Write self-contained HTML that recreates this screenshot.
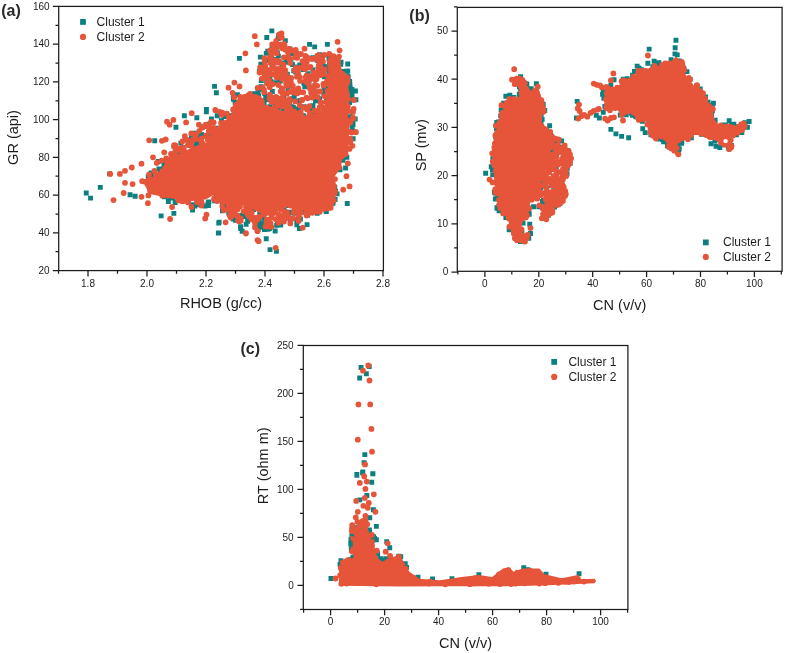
<!DOCTYPE html>
<html><head><meta charset="utf-8"><title>Cluster scatter plots</title>
<style>
html,body{margin:0;padding:0;background:#fff;}
body{width:785px;height:653px;overflow:hidden;}
svg{display:block;font-family:"Liberation Sans",Arial,sans-serif;}
</style></head><body>
<svg width="785" height="653" viewBox="0 0 785 653">
<rect width="785" height="653" fill="#ffffff"/>
<g>
<rect x="58.7" y="6.4" width="324.7" height="264.2" fill="none" stroke="#1c1c1c" stroke-width="1.25"/><path d="M88 270.6v5.8M147 270.6v5.8M206 270.6v5.8M265 270.6v5.8M324 270.6v5.8M383 270.6v5.8M58.5 270.6v3.2M117.5 270.6v3.2M176.5 270.6v3.2M235.5 270.6v3.2M294.5 270.6v3.2M353.5 270.6v3.2M58.7 270.6h-5.8M58.7 232.9h-5.8M58.7 195.1h-5.8M58.7 157.4h-5.8M58.7 119.6h-5.8M58.7 81.9h-5.8M58.7 44.1h-5.8M58.7 6.4h-5.8M58.7 251.7h-3.2M58.7 214h-3.2M58.7 176.2h-3.2M58.7 138.5h-3.2M58.7 100.8h-3.2M58.7 63h-3.2M58.7 25.3h-3.2" stroke="#1c1c1c" stroke-width="1.25" fill="none"/><g font-size="10" fill="#1c1c1c"><text x="88" y="286.5" text-anchor="middle">1.8</text><text x="147" y="286.5" text-anchor="middle">2.0</text><text x="206" y="286.5" text-anchor="middle">2.2</text><text x="265" y="286.5" text-anchor="middle">2.4</text><text x="324" y="286.5" text-anchor="middle">2.6</text><text x="383" y="286.5" text-anchor="middle">2.8</text><text x="49.6" y="273.9" text-anchor="end">20</text><text x="49.6" y="236.2" text-anchor="end">40</text><text x="49.6" y="198.4" text-anchor="end">60</text><text x="49.6" y="160.7" text-anchor="end">80</text><text x="49.6" y="122.9" text-anchor="end">100</text><text x="49.6" y="85.2" text-anchor="end">120</text><text x="49.6" y="47.4" text-anchor="end">140</text><text x="49.6" y="9.7" text-anchor="end">160</text></g><g font-size="14.5" fill="#1c1c1c"><text x="221" y="308.4" text-anchor="middle">RHOB (g/cc)</text><text transform="translate(18.4 137.5) rotate(-90)" text-anchor="middle">GR (api)</text></g>
<path d="M83.8 193h4.9M88.1 198.1h4.9M97.8 187.4h4.9M152.3 140.8h4.9M181.9 115.8h4.9M204 109.4h4.9M194.4 117.8h4.9M173.5 127.3h4.9M158.7 215.9h4.9M171.4 213.4h4.9M216.3 233h4.9M216.3 223.1h4.9M127.6 194.8h4.9M132.7 196.3h4.9M239.7 231.2h4.9M107.2 173.9h4.9M269.4 30.9h4.9M264.3 37.5h4.9M282.9 40.6h4.9M237 58.4h4.9M257.9 57.1h4.9M307.1 44.4h4.9M312.2 46.9h4.9M324.9 44.4h4.9M345.3 64h4.9M345.3 71.1h4.9M353 91h4.9M353.5 99.7h4.9M212.1 86.4h4.9M213.9 92.8h4.9M203.9 111.9h4.9M209 119h4.9M285.4 50.3h4.9M293.1 55.9h4.9M317.3 54.6h4.9M344.8 203.5h4.9M267.6 249.6h4.9M274 251.4h4.9M215.9 233.1h4.9M216.7 222.1h4.9M238.3 228.5h4.9M263.8 238.7h4.9M272.7 231h4.9M304.6 224.6h4.9M296.9 228.5h4.9M314.7 213.2h4.9M291.8 213.2h4.9" fill="none" stroke="#0c8080" stroke-width="4.9"/>
<path d="M274.6 46.7h4.9M290 64.5h4.9M281.9 102.7h4.9M296.6 112.7h4.9M293 67h4.9M313.4 58.2h4.9M273.5 101.8h4.9M264.2 82.4h4.9M297.4 65h4.9M300.5 69.6h4.9M273.9 82.7h4.9M284 59h4.9M308.7 92.1h4.9M268.8 81.8h4.9M289.2 106.7h4.9M304 58h4.9M281.4 96.9h4.9M262.1 74.7h4.9M306.6 81.7h4.9M314.6 60.2h4.9M301.5 83.4h4.9M293.2 72h4.9M312 112.4h4.9M285.5 89.2h4.9M255.5 92.3h4.9M310.7 57.8h4.9M279.1 89.6h4.9M255.3 97.8h4.9M279.4 106.4h4.9M256.9 71.4h4.9M290.9 107.4h4.9M310.5 105.7h4.9M271.3 68.6h4.9M277.1 107.4h4.9M263.8 53.4h4.9M268 74.4h4.9M293.8 56h4.9M277.9 81.1h4.9M320.3 91.4h4.9M288.5 85.3h4.9M316.4 98.8h4.9M314.6 100.3h4.9M279.5 67.2h4.9M258.6 86.7h4.9M275.7 38.6h4.9M258.4 64.3h4.9M269.4 63h4.9M277.5 44.4h4.9M284.9 74.3h4.9M275.9 56.1h4.9M313.7 91.9h4.9M270 64.6h4.9M263.2 98.1h4.9M289.7 98.7h4.9M275 52.7h4.9M313 100.9h4.9M310.5 95.5h4.9M267.5 77.1h4.9M276.9 36.6h4.9M269.9 91.5h4.9M320.5 71.2h4.9M320.4 64.4h4.9M267.1 53h4.9M265.3 51.1h4.9M296.4 108.8h4.9M312.1 73.9h4.9M298.5 100.4h4.9M257.2 88.9h4.9M317.1 99h4.9M305.5 73.8h4.9M264 99.5h4.9M275.2 100.5h4.9M321.6 67h4.9M316.8 101h4.9M261.7 102.6h4.9M322.2 88.6h4.9M276.5 79.6h4.9M321.6 88h4.9M289.3 111.5h4.9M282.6 106.4h4.9M269.3 58.5h4.9M268.5 82.8h4.9M269.9 68.9h4.9M276.7 72.1h4.9M293.4 109.1h4.9M287.5 78.2h4.9M283 49.4h4.9M263.6 73.4h4.9M303.7 80.3h4.9M274.7 77.1h4.9M291.4 99.1h4.9M258.8 80.6h4.9M269.1 57.1h4.9M307.1 76.2h4.9M291.8 97.1h4.9M317.3 70.9h4.9M295.5 76.1h4.9M288.2 91.6h4.9M283.9 78.4h4.9M301.8 106.8h4.9M319.5 55.7h4.9M291.7 112.3h4.9M259.9 70.8h4.9M256.4 89.6h4.9M308 108.5h4.9M262.3 93.5h4.9M280 74.6h4.9M262.8 69.9h4.9M288.5 62.3h4.9M265.3 60.6h4.9M291.3 70.7h4.9M296.4 76.6h4.9M308.3 114.7h4.9M253.9 98.7h4.9M270.7 44.9h4.9M281.7 109.7h4.9M292.5 92.2h4.9M301 69.4h4.9M297.1 100.6h4.9M257.1 105.1h4.9M255.9 105.6h4.9M284 62.3h4.9M291.2 110.9h4.9M270.5 44.9h4.9M289.3 53.9h4.9M273.7 59.5h4.9M306.2 58.2h4.9M287.4 48.9h4.9M276.2 35.7h4.9M304.3 79.8h4.9M264.8 73.5h4.9M310.5 70h4.9M287 103.3h4.9M279.6 76.2h4.9M301 115.6h4.9M275.9 103.1h4.9M302.4 86.9h4.9M280.4 63h4.9M256.2 95.6h4.9M269.6 47.7h4.9" fill="none" stroke="#0c8080" stroke-width="4.9"/>
<path d="M185.5 140.2h4.9M194.4 141.9h4.9M155.9 161.5h4.9M187.8 142.3h4.9M206.5 124.1h4.9M207 127.5h4.9M201.6 126.6h4.9M188.9 137.7h4.9M219 120.8h4.9M223.8 116.5h4.9M214.7 115.7h4.9M155.7 161.4h4.9M206.1 136.9h4.9M221.7 116.1h4.9M171.4 155.3h4.9M200 127.3h4.9M192.1 133.2h4.9M207.5 134.4h4.9" fill="none" stroke="#0c8080" stroke-width="4.9"/>
<path d="M285.9 213.5h4.9M347.4 84.2h4.9M228.2 205.8h4.9M164.6 160.6h4.9M327 63.5h4.9M213.8 197.4h4.9M177.2 153.3h4.9M245.2 221.3h4.9M338.1 64.4h4.9M165.9 197.1h4.9M350.2 111.8h4.9M286 205.6h4.9M281.6 210h4.9M324.1 99h4.9M221.5 203.9h4.9M298 219h4.9M345.8 77.8h4.9M219.8 202h4.9M348.8 92.6h4.9M220 127.4h4.9M263 213h4.9M349.7 127.3h4.9M214.8 128.1h4.9M230.8 97.8h4.9M213.7 193.6h4.9M235 94.7h4.9M292.7 115.4h4.9M189.1 204.6h4.9M350.4 120.9h4.9M327.2 58.2h4.9M193.6 145.5h4.9M231.8 214.5h4.9M147 178.9h4.9M256.4 222.2h4.9M344.6 71.2h4.9M148.9 178h4.9M261.6 213h4.9M336.6 169.5h4.9M330.5 203.4h4.9M233.5 216.3h4.9M305.2 215.4h4.9M230.7 218.6h4.9M185.1 200.9h4.9M289 212.1h4.9M231.6 96.4h4.9M349.6 98.9h4.9M233 220.3h4.9M326.6 72.8h4.9M202.7 206h4.9M280.6 110.3h4.9M309.9 211.4h4.9M172.7 202.5h4.9M338.6 62.1h4.9M332.3 187.3h4.9M252.9 225.6h4.9M344.6 92.7h4.9M267.4 106.8h4.9M323.6 211h4.9M339.9 71.5h4.9M254.1 225.1h4.9M263.2 220.9h4.9M194.7 200.6h4.9M323.9 211.5h4.9M232 95.5h4.9M265.4 229.3h4.9M350.5 111.2h4.9M207.3 138.3h4.9M161.5 165.7h4.9M236.6 218.1h4.9M257.3 214.2h4.9M279.2 208.8h4.9M205.3 138.6h4.9M344.9 117.2h4.9M274.6 109.1h4.9M332.7 199.5h4.9M250.1 95h4.9M349.8 127.5h4.9M289.9 212.6h4.9M205.9 205.5h4.9M274.9 220.7h4.9M242.8 216.5h4.9M183.7 200.4h4.9M259.3 227.4h4.9M225.2 122.2h4.9M346.1 131.9h4.9M262.8 226.2h4.9M316.8 113h4.9M197.7 140.4h4.9M205.8 202.8h4.9M347.5 116.7h4.9M347.6 100h4.9M194.5 144.6h4.9M262.2 219.2h4.9M258.3 218.1h4.9M312.9 114.3h4.9M327 71.7h4.9M333.1 191.1h4.9M255.8 221.3h4.9M243.7 209.3h4.9M327.8 65.4h4.9M347.1 102.6h4.9M302.7 118.3h4.9M347.8 87.9h4.9M305.2 208.4h4.9M256.9 102.3h4.9M199 202.3h4.9M344.5 140.8h4.9M330.8 201.3h4.9M212.1 200.7h4.9M284.9 204h4.9M326.5 58.5h4.9M258 223.5h4.9M287.7 219.9h4.9M323.2 86.4h4.9M344.7 90h4.9M197.9 144.8h4.9M291.8 207.6h4.9M328.2 65.5h4.9M239.3 215.1h4.9M195.6 204.8h4.9M347 89.8h4.9M194.3 201.1h4.9M310.3 209.1h4.9M342.9 150.8h4.9M161.9 196.7h4.9M327.6 60.5h4.9M160 169.1h4.9M251.1 209.5h4.9M274.2 225.4h4.9M220 210.7h4.9M170.7 198h4.9M228.6 115.8h4.9M286.4 111.9h4.9M300.9 210.9h4.9M347.2 81.5h4.9M337.6 169.7h4.9M299.4 212.2h4.9M237.3 205h4.9M226.3 213h4.9M276.7 216.5h4.9M325.1 66.7h4.9M259.1 224.4h4.9M257.6 225.7h4.9M350.6 124.6h4.9M327 69.3h4.9M346.8 98.3h4.9M206.4 201.9h4.9M255.7 229.6h4.9M349.3 121.2h4.9M275.9 219.4h4.9M142.8 181.5h4.9M327.1 60.5h4.9M206 205.5h4.9M267.1 228.2h4.9M306.2 212h4.9M232.6 102.2h4.9M224.5 207.2h4.9M251.6 93.8h4.9M329 65.3h4.9M276.8 222.2h4.9M285.5 217.5h4.9M285.4 215.4h4.9M157.7 171h4.9M321.4 94.2h4.9M283.9 212.2h4.9M162 161.9h4.9M347.5 86.2h4.9M294.2 219.8h4.9M283.3 104.3h4.9M278.3 225.1h4.9M294.4 224.8h4.9M186.4 145.4h4.9M165.9 160.4h4.9M231 99.2h4.9M340.5 160.3h4.9M287.8 222h4.9M349.6 95.3h4.9M322 76.9h4.9M178.4 143.1h4.9M266.7 228.5h4.9M231 219.1h4.9M199 134.5h4.9M243.7 224.2h4.9M349.5 89.4h4.9M195.3 136h4.9M156.5 168.9h4.9M180.5 147.4h4.9M197.9 135.3h4.9M252.8 227.1h4.9M343.1 168h4.9M192.3 206h4.9M334.6 193.9h4.9M350.7 138.8h4.9M299.6 116.2h4.9M344.4 157.3h4.9M205.5 204.7h4.9M352.8 119h4.9M148.5 172.9h4.9M177.3 148.5h4.9M238.1 226.6h4.9M190.1 210.1h4.9M345.5 76.4h4.9M254.6 227.7h4.9M145.8 176.7h4.9M199.9 136.2h4.9M150.7 173.2h4.9M322.9 84h4.9M272.6 104.8h4.9M165.9 201.6h4.9M255.6 99.4h4.9M290.6 111.3h4.9M287.6 110.2h4.9M262 229.6h4.9" fill="none" stroke="#0c8080" stroke-width="4.9"/><path d="M144 182L144.9 185.6L149.6 194.1L168.2 197.7L168.2 197.7L187 201.5L205.7 199.6L215.5 194.1L215.6 194.1L215.7 194L215.8 194L215.9 194L216 194L216.1 194L216.2 194L216.3 194L216.4 194.1L216.5 194.1L216.5 194.2L216.6 194.2L216.7 194.3L216.8 194.3L226 205L244.7 205.3L244.8 205.3L244.9 205.3L245 205.4L250.3 207.3L250.4 207.3L250.5 207.4L255.1 210.4L262.2 214.6L269.4 210.3L269.5 210.3L269.6 210.3L269.7 210.2L281.5 207.3L285.8 200L285.9 199.9L286 199.8L286 199.8L286.1 199.7L286.2 199.6L286.3 199.6L286.3 199.6L286.4 199.5L286.5 199.5L286.6 199.5L286.7 199.5L286.8 199.5L286.9 199.5L287 199.5L287.1 199.6L287.2 199.6L287.3 199.7L287.3 199.7L296.6 207.4L300.7 210.1L310.9 207.2L311 207.2L311.1 207.2L311.2 207.2L311.3 207.2L311.4 207.2L311.5 207.2L311.6 207.3L311.7 207.3L311.7 207.4L316.2 210.3L323.5 211.8L333.3 210.3L334.7 188.3L334 177.7L334 177.6L334 177.5L334 177.4L334.1 177.3L334.1 177.2L334.1 177.1L334.2 177L340.8 168L342.4 157.6L342.4 157.5L342.5 157.4L345 149.7L349 134.9L348 112.1L346 82.2L340.2 64.6L333.4 59.6L329 70.2L327 95.1L327 95.2L325 105.2L325 105.3L324.9 105.4L324.9 105.5L324.8 105.6L318.8 114.6L318.8 114.6L318.7 114.7L318.6 114.8L318.5 114.8L318.5 114.9L318.4 114.9L318.3 115L307.3 118L307.2 118L307.1 118L307 118L306.9 118L306.8 118L306.7 118L283.7 111L265.8 107L265.7 106.9L265.6 106.9L265.5 106.8L257.5 101.8L257.4 101.8L257.3 101.7L257.2 101.6L257.2 101.6L257.1 101.5L253.4 94.5L243.6 94L237.8 98.7L233.9 105.4L229.9 117.3L229.9 117.4L229.9 117.5L229.8 117.6L223.8 125.6L223.7 125.7L215.7 134.7L215.7 134.8L207.7 141.8L207.6 141.8L207.5 141.9L207.4 141.9L207.3 141.9L195.4 145.9L180.5 152.9L170.7 158.8L162.8 168.6L162.7 168.7L162.6 168.8L152.6 176.8L152.5 176.9L144 182Z" fill="#e6543a"/><path d="M347.1 77.5h0M151.2 179.7h0M348.1 99h0M284.2 217.4h0M347.6 110h0M344.6 77.1h0M346.4 91.8h0M219.1 199.3h0M332.3 60.8h0M300.9 212.8h0M250.7 96h0M342.5 74h0M219.2 128.4h0M229.5 210h0M278.6 214.7h0M253.6 217.5h0M229.1 203.6h0M296.2 212.5h0M275.8 109.1h0M343.6 79.3h0M249.6 216.5h0M286.8 212.2h0M251.8 212.2h0M290 203.4h0M346.6 93.4h0M290.5 205.6h0M220.5 198.6h0M316.1 211.5h0M346.3 143.6h0M217.1 201.1h0M330.9 70.5h0M330.5 59.9h0M223.9 210.2h0M291.7 203.1h0M295.7 209.5h0M285.9 218.3h0M145 181.8h0M207.6 139.4h0M334.1 192.7h0M333.8 194h0M284.4 211.9h0M236.3 210h0M283.8 202.6h0M223 128.8h0M332.4 61.4h0M306.6 215.5h0M278.8 218.9h0M268.4 219.6h0M349.8 138.7h0M293.9 205.2h0M240.9 218.7h0M263.1 106.6h0M270.3 109.5h0M234.2 210.9h0M270.5 212.3h0M315.3 210.8h0M314.4 207.3h0M287.8 215.4h0M265.8 212.5h0M166.7 166.2h0M278.6 222.9h0M320.3 114h0M332.1 65.5h0M327.1 102.1h0M183.4 201h0M347 94.6h0M196.9 198.5h0M175.3 155.7h0M313.9 210.3h0M329.7 61.5h0M258 217.3h0M169.6 159.5h0M344.7 145.4h0M190.8 145.2h0M308.6 208.2h0M174.8 156.2h0M345.2 91.2h0M233.7 214.9h0M346.4 140.7h0M266.5 223.4h0M270.6 223.5h0M347.9 106.3h0M250.2 95.2h0M334.8 191.1h0M214.3 198.2h0M212.4 137.5h0M275.9 219.2h0M150.2 191h0M221.8 201h0M283.9 200.1h0M212.2 136.1h0M162.3 171.1h0M236.5 206.6h0M345.5 154h0M287 200h0M167.6 195.6h0M183.2 152.5h0M249.5 208.3h0M182.6 198.7h0M201.7 143h0M255 223h0M311 208.3h0M234.1 207.5h0M314 208.7h0M183.8 149.5h0M254 220.2h0M306.6 118.9h0M298.9 216.8h0M350.2 142.8h0M228.6 206.7h0M230.3 216.4h0M326.5 102.2h0M246.1 211.4h0M294.5 209.9h0M250.1 96h0M225.5 122.9h0M271.7 217.6h0M286.3 111.9h0M180.5 199.3h0M224.3 201.1h0M253.5 97.1h0M314.2 117.1h0M333.2 188h0M243.6 211.3h0M155.9 174.7h0M155.9 176.4h0M327 80.9h0M239.6 219.1h0M237.6 209.2h0M246 206.7h0M338.1 61.1h0M269.8 224.8h0M214.2 134.2h0M164.8 168.7h0M172.1 156.6h0M328.5 76h0M249.5 211.4h0M330.9 70.2h0M307.6 214.4h0M333.9 185.9h0M345.7 148.5h0M342.5 75.7h0M197.2 202.2h0M240.3 96.9h0M247.6 214.4h0M272.2 211.9h0M344.6 144.2h0M174.7 158.3h0M328.2 83.8h0M226.9 122.9h0M346.2 102.2h0M313.2 116.7h0M284.6 213.3h0M201.8 203.3h0M280.3 209.3h0M312.4 118.4h0M188.2 202.4h0M349.8 131.9h0M275.2 210.4h0M339.3 167.3h0M271.4 226.8h0M280.3 215.9h0M287 204.3h0M234.6 209.2h0M306.7 211.2h0M346.7 83.7h0M257.2 219.7h0M229.8 215.4h0M350.2 122.5h0M283.4 201.9h0M350.6 139.8h0M266.6 219.9h0M178.4 200.4h0M330.1 65.4h0M230.1 211h0M283 206h0M312.2 212.8h0M346 89.2h0M345.1 91.7h0M341.8 156.5h0M347.6 81.5h0M297.1 115.3h0M273.2 213.3h0M211.1 138.9h0M274.1 108h0M271.5 212.9h0M316.3 115.9h0M328.5 79.8h0M215.5 192.5h0M308.3 207.7h0M332.9 183.9h0M231.6 209.6h0M309.7 117.9h0M293.1 218.2h0M183.6 151.2h0M303.5 207.5h0M249.7 212.8h0M251.4 218.7h0M270.7 213.7h0M201.5 202.2h0M338.2 64.7h0M273.9 108.5h0M228.9 117.4h0M235 107.7h0M332.4 195.6h0M339.1 167.4h0M257.3 103.7h0M214 199.3h0M259.8 216.9h0M269.5 226.5h0M333.7 194.1h0M264.5 214.3h0M240 206.6h0M331.5 61.5h0M173.8 157.4h0M346.9 122.9h0M287.7 217.7h0M347.4 110.3h0M231.5 213.5h0M182 201.2h0M346.8 126.4h0M284.8 201.6h0M233.1 109.5h0M251.7 219.4h0M335 179.1h0M333.5 56.1h0M265.5 226.4h0M334.8 193.1h0M342.9 154.5h0M202.5 143.5h0M345.9 147.3h0M200.9 140.7h0M293.6 212.2h0M222.3 206.2h0M351.7 132.5h0M300.5 208.8h0M218.4 197.7h0M197.6 200.9h0M286.5 198.2h0M347 122.5h0M347.3 111.8h0M327.5 91h0M237.5 215.7h0M236 104.8h0M267.1 107.8h0M162.3 195.7h0M248.3 95.5h0M222.7 127.6h0M345.6 95.4h0M347.6 120.6h0M148.8 179.9h0M292.4 218.5h0M167.4 163.9h0M352.9 117.7h0M349.5 148.9h0M216.2 130.5h0M302.3 116.9h0M149.1 174.6h0M214.7 130.5h0M255.4 96.9h0M353.9 100h0M201.3 205.5h0M338.1 58h0M240.6 220.8h0M230.6 217.6h0M250 93.8h0M291.5 219.1h0M333.7 200.4h0M336.8 58.3h0M142.2 181.2h0M165.9 159.9h0M239.2 221.4h0M192.5 141.1h0M195.7 139h0M173.2 154.1h0M323 107.7h0M298.7 220.9h0M319.8 211.8h0M353.6 118.3h0M234.2 97.3h0M148.4 195.4h0M352.5 145.8h0M287.4 111h0M226.8 113.6h0M329.3 54h0M255 227.3h0M238.1 220.5h0M284 221.6h0M191.5 207h0M166.2 158.3h0M154.4 170.9h0M353.7 108.8h0M339 56.6h0" fill="none" stroke="#e6543a" stroke-width="5.8" stroke-linecap="round"/>
<path d="M182.3 141.5h0M201.5 138.3h0M210.4 130.6h0M191.3 133.4h0M201.9 127.8h0M213.6 132.1h0M219.7 111.8h0M174.1 145.2h0M191.2 145.8h0M187.9 144.9h0M222.3 112.6h0M180.5 148.3h0M175.9 147.7h0M156.8 162.9h0M208.8 131.2h0M213.6 127.8h0M206.2 135.5h0M206.9 126.3h0M187.1 139.8h0M184.8 136.2h0M173.9 146.6h0M213.7 122.3h0M211 122h0M221.8 115.1h0M195.8 134.3h0M175.5 145.3h0M175.5 150.9h0M161.6 160.6h0M164.2 152.3h0M199.3 130.8h0M193.2 139.4h0M209.3 127.5h0M180.6 150.5h0M182.4 147.7h0M220.9 112.6h0M221.1 122.9h0M205.7 124.7h0M171 154h0" fill="none" stroke="#e6543a" stroke-width="5.8" stroke-linecap="round"/>
<path d="M318.9 64.9h0M306.8 61.7h0M292.9 85.9h0M274.3 68.5h0M283.2 64.3h0M267.3 79.3h0M317.5 55.7h0M288 52.2h0M302.4 67.8h0M295.7 68h0M324.8 69.4h0M277.5 104.3h0M274.9 99.7h0M284.3 43.9h0M295.2 57.4h0M321.5 73.3h0M312.1 89.7h0M275.5 44.9h0M295.7 50h0M308.3 83.5h0M269.5 98.5h0M323.8 74h0M323.9 71.4h0M265.3 65.9h0M269.6 70.2h0M320.9 105.9h0M321.5 102.4h0M293.2 92.3h0M262.5 87.5h0M279.2 62h0M276.2 40.9h0M312.4 97.5h0M276.7 77.5h0M269.9 96h0M280.5 105.6h0M277.3 44.6h0M264.6 77.5h0M295.2 51.9h0M266.6 77.4h0M285.8 74.1h0M311.2 92.4h0M264.6 61.6h0M283.4 93.3h0M269.8 87.3h0M286 106.4h0M313.2 89.2h0M282.5 46.2h0M297.9 76h0M287.3 85.9h0M283 73.3h0M299.6 92h0M304.9 68.6h0M267.3 83.4h0M290.9 81.8h0M306.3 56.6h0M281.4 44.5h0M314.7 85.4h0M312.5 76.8h0M261.5 67.4h0M281.8 37.7h0M309 116.2h0M324.4 55h0M320.4 66.2h0M302.2 100h0M279.2 34.4h0M280.7 91.5h0M323.5 70.8h0M283.3 65.7h0M319.8 113.2h0M276.3 46.3h0M309.4 106.2h0M293.1 112.4h0M270.1 50.4h0M281.4 71.6h0M308 58.1h0M269.9 57.7h0M282.2 88.4h0M309.9 112.9h0M286.7 93.7h0M313.7 72.4h0M280.9 98.5h0M288.8 106.1h0M300.1 80.9h0M273.9 74.6h0M278.9 72.6h0M305.4 77.5h0M315.2 91.6h0M281.4 77.3h0M281.8 106.5h0M275.6 49.2h0M271.3 54.9h0M312.3 91.1h0M271.3 69h0M320.6 102.1h0M278.5 85h0M275.5 51.9h0M299.5 67.8h0M287.6 106.4h0M307.7 98.3h0M254.7 101.3h0M269.9 94.7h0M316.6 78.9h0M272.4 102.1h0M294.8 70.5h0M307.1 67.2h0M276.7 97.3h0M304 64.2h0M305.4 55.9h0M289.9 49.7h0M278.5 68.9h0M279 61.3h0M290.3 108.7h0M315.2 58.7h0M317.8 97.1h0M307.1 109.4h0M282.6 48.4h0M260.1 67.3h0M269.1 80h0M300.7 112.2h0M276.8 53.4h0M261.9 78.6h0M286.7 109.3h0M264.1 92.2h0M324.7 96.3h0M270.5 62.8h0M285.3 70.1h0M274 47h0M281.1 91.1h0M311.4 77.9h0M270.5 74.1h0M292.8 50.4h0M320.2 91.5h0M285.7 49.8h0M296.9 76.7h0M298.4 88.4h0M297.2 57.8h0M268.9 84.4h0M321 106.4h0M289 58.6h0M289.6 99.1h0M268 73.9h0M297.7 114h0M288.7 99.9h0M305.1 69h0M308.8 76.5h0M292.6 90.8h0M308.9 67.5h0M259 98.5h0M287 78.3h0M275.6 60.7h0M264.3 58.1h0M315.1 93.8h0M275.6 60.5h0M272.8 84.1h0M317.2 85.8h0M316.1 74.5h0M289.6 91.8h0M268.2 83.3h0M289.9 58.9h0M289.6 48.9h0M312.1 59h0M322.8 61.4h0M264 89.6h0M271.2 101.5h0M288.2 56.3h0M296.4 52.7h0M270.8 52.3h0M265.1 68.7h0M286.1 83.4h0M293.5 90.7h0M298.1 73.2h0M319.6 107.1h0M283.1 104h0M294.3 111.3h0M319 61.6h0M273.8 68.6h0M322.9 73h0M279.8 36.2h0M283.9 100h0M318.6 111.8h0M306.7 75.3h0M312 95.7h0M257.6 87.9h0M277.2 71.8h0M264.5 72.1h0M283.8 57.3h0M271.7 60.4h0M297 93.4h0M284.7 93.4h0M295.1 101.4h0M306.4 97.6h0M261.9 102.9h0M278.4 46.8h0M279.9 70.5h0M299.5 77.1h0M301.7 99.8h0M323.7 85.6h0M284.5 75.3h0M278.7 103.2h0M293.2 91.9h0M313 91.9h0M317.9 71.8h0M304.1 107.5h0M288.9 102.2h0M273.8 47.4h0M315.4 79.9h0M323.4 83.8h0M272.2 44.3h0M318.7 55.1h0M265.5 77.9h0M305.6 81.7h0M257 98.9h0M302.5 61.1h0M320.5 75.2h0M275.8 96.8h0M303.2 92.3h0M271.1 59.3h0M284.6 45.8h0M277.9 62.7h0M261.7 100.7h0M318.3 67.8h0M322.2 59.7h0M291.2 77.9h0M282.7 100.2h0M290.3 63.1h0M314.9 110.7h0M308.3 76.2h0M282.8 93.8h0M264.9 73.5h0M310.5 67h0M310.6 79.1h0M301 54h0M309.6 87.9h0M282.7 98.7h0M272.3 97.6h0M306.4 58.3h0M273.3 63.4h0M310.1 87h0M281.4 90.7h0M316.3 77.3h0M299.7 105.5h0M269 72.9h0M281.9 79.1h0M286.1 76h0M305.8 57.6h0M259.6 72.5h0M262.9 72.2h0M265.7 71h0M268.7 70.9h0M297.4 90h0" fill="none" stroke="#e6543a" stroke-width="5.8" stroke-linecap="round"/>
<path d="M110.2 173.9h0M119.9 173.9h0M125 170.8h0M131.8 167.5h0M141.5 163.7h0M153 157.3h0M149.2 140.3h0M161.9 140.8h0M165.7 139.5h0M167 121.7h0M173.4 119.9h0M169.6 124.7h0M191.7 113.2h0M186.1 122.4h0M198.9 124.7h0M215.4 110.2h0M125 182.8h0M132.6 184.1h0M123.7 193h0M113.5 200.1h0M141.5 196.8h0M147.9 203.2h0M170.1 219h0M172.1 207h0M206.5 214.6h0M205.2 218.5h0M225.6 222.3h0M246 233.2h0M257.5 231.2h0M257.5 240.1h0M254.8 36.2h0M256.8 44.4h0M245.4 53.3h0M245.9 70.4h0M281.5 33.4h0M337.6 41.8h0M339.6 50.3h0M304.5 48.7h0M234.4 82.6h0M228.5 87.7h0M232.6 92.8h0M239.5 86.4h0M215.3 109.9h0M355.9 131.8h0M352.9 111.9h0M349.6 186.4h0M343.2 189.7h0M347.8 163.5h0M346.5 176.2h0M355.9 132.2h0M275.7 247.8h0M258.6 241.2h0M257.3 231h0M245.9 233.6h0M302.7 227.7h0M290.4 223.4h0" fill="none" stroke="#e6543a" stroke-width="5.8" stroke-linecap="round"/>
<rect x="80.1" y="19" width="5.8" height="5.8" fill="#0c8080"/><circle cx="83" cy="36.9" r="3.1" fill="#e6543a"/><g font-size="12" fill="#1c1c1c"><text x="96.6" y="25.6">Cluster 1</text><text x="96.6" y="40.6">Cluster 2</text></g>
<text x="1.2" y="16.3" font-size="16" font-weight="bold" fill="#2a2a2a">(a)</text>
</g>
<g>
<rect x="457.3" y="7.4" width="324.8" height="263.9" fill="none" stroke="#1c1c1c" stroke-width="1.25"/><path d="M484.9 271.3v5.8M538.8 271.3v5.8M592.7 271.3v5.8M646.6 271.3v5.8M700.5 271.3v5.8M754.4 271.3v5.8M457.9 271.3v3.2M511.8 271.3v3.2M565.8 271.3v3.2M619.6 271.3v3.2M673.5 271.3v3.2M727.4 271.3v3.2M781.3 271.3v3.2M457.3 272h-5.8M457.3 223.8h-5.8M457.3 175.6h-5.8M457.3 127.4h-5.8M457.3 79.2h-5.8M457.3 31h-5.8M457.3 247.9h-3.2M457.3 199.7h-3.2M457.3 151.5h-3.2M457.3 103.3h-3.2M457.3 55.1h-3.2M457.3 6.9h-3.2" stroke="#1c1c1c" stroke-width="1.25" fill="none"/><g font-size="10" fill="#1c1c1c"><text x="484.9" y="287.2" text-anchor="middle">0</text><text x="538.8" y="287.2" text-anchor="middle">20</text><text x="592.7" y="287.2" text-anchor="middle">40</text><text x="646.6" y="287.2" text-anchor="middle">60</text><text x="700.5" y="287.2" text-anchor="middle">80</text><text x="754.4" y="287.2" text-anchor="middle">100</text><text x="448.2" y="275.3" text-anchor="end">0</text><text x="448.2" y="227.1" text-anchor="end">10</text><text x="448.2" y="178.9" text-anchor="end">20</text><text x="448.2" y="130.7" text-anchor="end">30</text><text x="448.2" y="82.5" text-anchor="end">40</text><text x="448.2" y="34.3" text-anchor="end">50</text></g><g font-size="14.5" fill="#1c1c1c"><text x="619.7" y="309.7" text-anchor="middle">CN (v/v)</text><text transform="translate(425.8 145.3) rotate(-90)" text-anchor="middle">SP (mv)</text></g>
<path d="M574.7 101.4h4.9M574 118h4.9M593.8 115.4h4.9M596.9 118h4.9M600.8 112.2h4.9M600.1 94.4h4.9M601.4 98.2h4.9M600.8 91.8h4.9M611.6 79.7h4.9M608.4 85.5h4.9M623.7 114.8h4.9M630.1 115.4h4.9M608.4 129.4h4.9M613.5 133.9h4.9M619.2 136.4h4.9M626.2 137.7h4.9M640.3 128.8h4.9M642.8 132.6h4.9M632 71.5h4.9M645.4 63.2h4.9M639 69.6h4.9M651.7 61.3h4.9M661.3 65.1h4.9M646.7 49.1h4.9M673.5 40.2h4.9M672.7 47.8h4.9M739.1 125.2h4.9M734 134.8h4.9M721.2 128.4h4.9M708.5 143.7h4.9M713.6 146.2h4.9M717.4 147.5h4.9M699.6 133.5h4.9M709.8 105.5h4.9M698.3 96.6h4.9M673.5 147.5h4.9M483.2 173.3h4.9M527.3 224.3h4.9M528.1 233.5h4.9M561 175.3h4.9M564.8 168.4h4.9M531.1 206.7h4.9M492.9 199h4.9M533.9 83.7h4.9M518.1 76.8h4.9M507.4 95.2h4.9M498.2 115.9h4.9M547.2 125.8h4.9" fill="none" stroke="#0c8080" stroke-width="4.9"/>
<path d="M536.4 206.9h4.9M546.2 135.2h4.9M548.6 185.8h4.9M545.8 195.7h4.9M543.8 203.9h4.9M552.8 163.3h4.9M558.5 188h4.9M561.2 171.7h4.9M548.7 140.2h4.9M565.4 150.6h4.9M567.7 163.4h4.9M553.8 169.2h4.9M562.1 160.6h4.9M552 149h4.9M544.8 137.8h4.9M559.1 141h4.9M552.8 140.4h4.9M550 179.3h4.9M545.9 215.2h4.9M555.1 144.4h4.9M555.1 180.2h4.9M560.7 153.6h4.9M543.9 147.1h4.9M555.5 194.7h4.9M562.4 171.6h4.9M548.4 139.6h4.9M541 200.3h4.9M543.1 181.7h4.9M544.2 214.3h4.9M551.5 181.3h4.9M540.7 202.2h4.9M548.6 151.9h4.9M564.6 173.7h4.9M556.4 139.9h4.9M559.2 148.3h4.9M552.1 207.1h4.9M542.7 218.5h4.9M547.9 146.1h4.9M564.9 151.1h4.9M555.6 197.4h4.9M545 152.5h4.9M547.8 146.2h4.9M544.2 157.3h4.9M559.9 147.3h4.9M544.6 202.2h4.9M556.7 179.4h4.9M549.7 137.2h4.9M550.2 209.6h4.9M549.1 145.8h4.9M559.1 198.6h4.9M560.7 157.2h4.9M554.5 204.8h4.9M567.2 158.3h4.9M555 172.8h4.9M557.5 203.5h4.9M540 201.4h4.9M543.6 162.3h4.9M551.1 186.2h4.9M543.6 181h4.9M555.6 152.4h4.9" fill="none" stroke="#0c8080" stroke-width="4.9"/>
<path d="M518 241.6h4.9M527.8 88.9h4.9M543.9 130h4.9M528.5 89.6h4.9M539.5 186.1h4.9M542.3 110.5h4.9M541.6 156.3h4.9M539.7 119.4h4.9M517.5 97.3h4.9M511.3 97.5h4.9M526.3 238.4h4.9M520.6 223h4.9M503.4 217.6h4.9M538.7 118.8h4.9M519.4 232.5h4.9M543.4 139h4.9M543.3 165h4.9M494 128.8h4.9M499.3 210.4h4.9M526.8 214.3h4.9M491.9 162.2h4.9M496.5 206.1h4.9M538.5 121.6h4.9M524.4 84.3h4.9M497.1 199h4.9M522.2 83.6h4.9M539.6 184.1h4.9M526.2 209.4h4.9M491.9 152.4h4.9M544.1 143.2h4.9M495.5 126.9h4.9M495 127.6h4.9M543.6 156.6h4.9M518.2 90.5h4.9M490.4 158.8h4.9M519.3 230.7h4.9M523.6 83.6h4.9M541.2 179.2h4.9M501.9 103.1h4.9M544.1 132.6h4.9M541.4 133.8h4.9M528.8 88.8h4.9M494.7 197.2h4.9M494.3 124.7h4.9M516.9 86.8h4.9M501.2 103.3h4.9M506.7 229.8h4.9M501.6 108h4.9M498.7 110h4.9M493.2 136.9h4.9M501.9 110.1h4.9M500.8 111.8h4.9M496.1 121.9h4.9M538.8 113.8h4.9M526.4 210.8h4.9M493.9 139.9h4.9M527.9 199.9h4.9M539.7 103.6h4.9M526 208h4.9M492.7 193.1h4.9M544.2 156.1h4.9M494.6 208.3h4.9M490 169.5h4.9M488.8 166.8h4.9M494.5 207.6h4.9M490.3 174.7h4.9M493.5 125.8h4.9M528.6 89.5h4.9M491.9 192h4.9M538.4 188.1h4.9M543.8 166.4h4.9M503.4 96.2h4.9M496.6 210.7h4.9M516.8 94.2h4.9M494.3 122.5h4.9M540.8 104.4h4.9" fill="none" stroke="#0c8080" stroke-width="4.9"/><path d="M492.6 152.8L493.3 165.2L494 177.5L494.8 189.5L498.8 195.3L498.9 195.4L498.9 195.5L499 195.6L499 195.7L499 195.8L499 195.9L498.6 207.9L503.6 214.9L508.6 216.4L508.7 216.5L508.8 216.5L508.8 216.6L508.9 216.6L509 216.7L509.1 216.8L509.1 216.8L509.2 216.9L509.2 217L509.2 217.1L509.3 217.2L509.3 217.3L510.9 229.3L513.8 236.8L518 241.7L524.2 242.4L530 239.2L528.3 235.8L521.8 233.6L521.7 233.6L521.6 233.6L521.5 233.5L521.5 233.5L521.4 233.4L521.3 233.3L521.3 233.2L521.2 233.2L521.2 233.1L521.1 233L521.1 232.9L521.1 232.8L521.1 232.7L521.1 225L521.1 224.9L521.1 224.8L521.1 224.7L521.2 224.6L521.2 224.5L521.3 224.4L526.6 216.9L529.4 211.2L528 207L528 206.9L528 206.8L528 206.7L528 206.6L528 206.5L528 206.4L528.1 206.3L528.1 206.3L532.7 197.1L532.8 196.9L532.8 196.9L539.1 189.5L544 169.9L545 150L544 135.1L544 135L544 134.9L544 134.8L544 134.7L544.1 134.6L546.9 127.7L542.1 123.6L542.1 123.5L542 123.4L542 123.3L541.9 123.3L541.9 123.2L541.8 123.1L541.8 123L541.8 122.9L541.8 122.8L541.8 122.7L542.6 113.5L542.6 113.4L542.6 113.3L542.7 113.2L545.2 106.5L542.4 105.3L542.3 105.3L542.2 105.2L542.2 105.2L542.1 105.1L542 105L542 104.9L541.9 104.9L541.9 104.8L541.8 104.7L541.8 104.6L541.8 104.5L541 95.4L538.3 87.7L534.9 87.1L532.9 91.1L532.8 91.1L532.8 91.2L532.7 91.3L532.6 91.4L532.6 91.4L532.5 91.5L532.4 91.5L532.3 91.6L532.2 91.6L532.1 91.6L532 91.6L531.9 91.6L531.8 91.6L531.7 91.6L531.6 91.5L531.5 91.5L531.4 91.4L531.4 91.4L531.3 91.3L531.2 91.2L531.2 91.1L528.2 86.7L523 82.2L522.9 82.1L522.8 82.1L517.9 76.4L512.3 77.6L511.7 81L517.5 86L517.5 86.1L517.6 86.2L517.6 86.3L517.7 86.4L521.5 94.1L521.5 94.1L521.6 94.2L521.6 94.3L521.6 94.4L521.6 94.5L521.6 94.6L521.6 94.7L521.6 94.8L521.5 94.9L521.5 95L521.4 95.1L521.4 95.1L521.3 95.2L521.2 95.3L521.2 95.3L521.1 95.4L515.7 98.4L515.6 98.4L515.5 98.4L515.4 98.5L515.3 98.5L505.8 99.9L502.2 103.9L503.2 110.3L503.2 110.4L503.2 110.5L503.2 110.6L503.2 110.7L503.2 110.8L503.1 110.9L503.1 111L499 118.5L496.8 129.1L495.2 139.7L495.2 139.8L493.3 152.1L493.3 152.2L493.2 152.2L493.2 152.3L493.2 152.4L493.1 152.5L493 152.6L493 152.7L492.9 152.7L492.8 152.8L492.7 152.8L492.6 152.8Z" fill="#e6543a"/><path d="M495.9 171.2h0M544.2 129h0M502.3 112.8h0M524.2 82.5h0M503.1 213.4h0M495.4 135.4h0M513.8 233.5h0M500.2 207.9h0M494.3 147.3h0M497.2 193.4h0M519.2 78.3h0M541.9 178.1h0M492.8 161.7h0M521.3 92.6h0M514.5 99h0M541.7 135.8h0M522.4 235.4h0M533.2 197.6h0M543.4 144.9h0M524.5 241.6h0M544.7 131.8h0M521.6 93.3h0M523 83.4h0M527.4 203.6h0M501.6 115.1h0M535.4 191.5h0M501.1 208h0M524.7 83.5h0M543.7 111.5h0M498.7 191.1h0M497.2 188.7h0M545.2 144.8h0M543.8 145.2h0M543.4 142.5h0M516.7 78.6h0M495.3 189.3h0M500.6 121.5h0M496.5 140.4h0M494.4 165.2h0M514 100.4h0M542.1 173.8h0M540.7 185.7h0M526.9 205.6h0M538.9 190.5h0M522.6 95.3h0M498.8 132.4h0M513.6 230.7h0M521.3 229.2h0M541.5 126h0M532 199.5h0M499.4 122.8h0M527.6 234.9h0M515.9 83.3h0M544.6 152.7h0M499 199.9h0M501.1 200.2h0M543.7 138.8h0M494.9 143.4h0M518 78.7h0M541.3 100.2h0M509.5 98.9h0M499.2 204.8h0M542.2 107.3h0M494.8 161.2h0M502 116.7h0M522.9 93.7h0M512 79.7h0M542.5 156.2h0M519 231h0M497.7 132.2h0M494.7 149.4h0M525.8 217.4h0M501.3 200.4h0M519.2 231.6h0M544.7 168.1h0M514.1 230.9h0M534.4 91.1h0M544.4 161h0M527 215.5h0M529.6 197.8h0M519.6 233.2h0M533.9 193.9h0M493.3 154.4h0M522.1 96.5h0M508.9 218.6h0M502.6 112.9h0M519.3 223.4h0M543 108.1h0M521.6 240.4h0M520.5 82.5h0M511.5 222.3h0M514.8 238.2h0M529.1 208.3h0M508.6 216.7h0M500.4 193.9h0M496.5 134h0M527.2 207.2h0M544.7 133h0M494.9 150.4h0M495.1 158.7h0M514.8 84.2h0M525 241.6h0M535.4 193.6h0M545.4 129.2h0M492.2 153.3h0M541.9 103.6h0M516.9 240.3h0M521.2 235h0M537.8 86.6h0M545.6 147.3h0M495.3 191.9h0M522.4 80h0M501.5 105.2h0M492.6 182.4h0M545.5 136.7h0M496.1 125.7h0M545.7 137.8h0M509.4 226.7h0" fill="none" stroke="#e6543a" stroke-width="5.8" stroke-linecap="round"/>
<path d="M550.3 213.4h0M546.8 191.1h0M563.3 153.8h0M549.7 140.9h0M570 154.5h0M549.8 206.8h0M550.1 181.5h0M557.5 201.4h0M551.8 210.4h0M564.9 166.2h0M544.8 206.8h0M557.9 147h0M557 183.6h0M557.9 144.9h0M570 162.6h0M556.3 157.1h0M549.1 171.2h0M545.2 217.5h0M544.6 213.1h0M565.3 191.2h0M552.4 195.3h0M562 193h0M551.2 146.5h0M556.4 174.2h0M546 134.8h0M550 207.2h0M563.6 194h0M545.9 143.4h0M552.4 161.1h0M545.9 181.1h0M553.9 203.8h0M547.9 140.9h0M545 174.3h0M549.4 154.8h0M565.2 195.7h0M557.2 183.4h0M571.1 158.3h0M545.4 183.1h0M552 142.8h0M547.3 139.7h0M561.5 171.7h0M558.4 139.4h0M554.9 169.5h0M556.8 171.9h0M547.8 138.6h0M555 146.3h0M547.3 193.5h0M561.3 202h0M562 158.8h0M560.6 202.1h0M562.1 184h0M550.2 131.8h0M551.8 137.9h0M545.6 199.2h0M563.7 186.7h0M555.9 138.8h0M549.9 206.7h0M562.9 173.4h0M552.1 164.3h0M548.5 160.6h0M552.7 182.8h0M559.2 181.2h0M553.5 176.2h0M545.7 177.3h0M545.7 183.9h0M546 167.1h0M552 185.2h0M546.7 150.1h0M552.3 212.5h0M558.7 140h0M563 152.3h0M556.1 149.2h0M554.4 164.5h0M564.7 151.5h0M554.1 176.9h0M546.2 166.2h0M547 191.2h0M557.2 194.3h0M552.3 209.3h0M551.9 169h0M553.2 199h0M561.7 200.6h0M564.5 159.9h0M564.6 162.9h0M552.1 191.8h0M561.6 188.2h0M539.2 192.1h0M559.2 183h0M560.3 198h0M552.8 154.6h0M547.9 142h0M566.2 176.1h0M543.1 213.8h0M549.8 203.2h0M558.7 204.4h0M536.6 194.3h0M568.2 160h0M568.1 160.2h0M567.5 158.4h0M556.1 185.8h0M547.8 167.9h0M554.7 181.6h0M551.5 156.1h0M548.4 148h0M539.3 205.3h0M565.9 170.5h0M561.7 179.1h0M555.3 204.1h0M560.9 163.1h0M549 135.7h0M551.2 135.4h0M542.7 208.6h0M563.9 161.1h0M561.3 191.5h0M544.6 179.7h0M563 168.9h0M546.5 200.7h0M559.6 190.6h0M563.4 197.8h0M558.2 150.5h0M569.1 163.7h0M544.3 193.7h0M547 206.9h0M544.9 211.2h0M546.5 154.5h0M566.8 158h0M547.7 209.1h0M558.3 164.6h0M541.8 185.3h0M553.6 191.6h0M540.7 195.2h0M545.7 163.5h0M554.1 138.4h0M559.3 163.1h0M558.2 189.6h0M546.4 143.8h0M547.2 205.8h0M568.7 151.2h0M558.4 187.8h0M544.2 176h0M565.7 172.3h0M546.3 219.3h0M551.8 202.5h0M557.1 178.2h0M560.4 148.5h0M560.7 201.9h0M537.3 198.7h0M551.5 203.1h0M547.9 137.6h0M565.8 194h0M562 200h0M541.8 218.3h0M555.2 152.3h0M566.3 150.7h0M567.7 158.8h0M555.7 154h0M545.7 158.2h0M559.1 197.2h0M550.2 204.9h0M544.7 173.5h0M545.7 194.1h0M548.3 172.3h0M550.3 200.4h0M555.6 163.6h0M547.5 195.7h0M562.9 179.4h0M557.1 162.9h0M548.3 149.4h0M549.4 165.6h0M564.7 145.5h0M557 205.1h0M552.6 179.7h0M546.4 187.6h0M568.1 165.6h0M547.6 199h0M550 159.2h0M554.1 183.2h0M559.2 151.1h0M549.9 207.4h0M549.5 142.5h0M552.2 143.4h0M552.2 196.4h0M560.7 185.5h0M556.4 154h0M548 214.9h0M553.2 154.4h0M552.7 138.2h0M548.4 163.1h0M564.7 154h0M559.2 172.3h0M566.1 149.9h0M559 180.5h0M562.9 201h0M562.9 176.1h0M564.1 159.3h0M561.8 178.3h0M549.6 196.7h0M543.6 193.2h0M547.4 141.3h0M557.6 161.8h0M561.2 195.7h0M553.1 199.9h0M556.4 155.2h0M543.1 214.7h0M547.4 160.8h0M549.2 172.2h0M547.9 178.2h0M555.5 190h0M560.7 162.4h0M551.6 147.1h0" fill="none" stroke="#e6543a" stroke-width="5.8" stroke-linecap="round"/>
<path d="M694 86.3h4.9M619.8 83.1h4.9M656.9 65.4h4.9M729 145.5h4.9M721.3 144.8h4.9M666.4 64.3h4.9M602.3 97.2h4.9M705.6 102.1h4.9M672.4 140.8h4.9M639.9 121.3h4.9M611.6 107.7h4.9M624.8 78.7h4.9M709.1 114.7h4.9M631.7 110.7h4.9M688.9 137.8h4.9M679.4 141.4h4.9M675.3 150.9h4.9M673.7 144.3h4.9M699.1 134.2h4.9M630.3 76.6h4.9M687.7 79.4h4.9M661.2 141.9h4.9M640.9 71.3h4.9M663.5 141.5h4.9M712.6 121.3h4.9M623 111.8h4.9M681.6 69.7h4.9M725.9 148.1h4.9M728.9 125.6h4.9M686.5 80.4h4.9M636.7 68.2h4.9M630.4 78.4h4.9M650.4 66.7h4.9M703.9 133.5h4.9M728.3 146.4h4.9M704.5 134.7h4.9M648.5 134.7h4.9M742.5 122.8h4.9M700 134.4h4.9M730.5 125.9h4.9M697.8 88.9h4.9M722.9 125h4.9M678.9 142.5h4.9M713.3 139.6h4.9M731.4 124.1h4.9M712.4 141.1h4.9M686.8 79.8h4.9M681.6 68.9h4.9M646.3 123h4.9M606.1 87.5h4.9M677 60.9h4.9M721.6 125h4.9M696.6 91.9h4.9M656.3 65.7h4.9M676.3 150.1h4.9M733.1 126.7h4.9M660.1 139.5h4.9M712.7 120.1h4.9M722.7 125.5h4.9M656.5 139h4.9M636.2 116h4.9M710 110.8h4.9M634.7 66.1h4.9M672 143.6h4.9M632.1 112.3h4.9M670.8 142.3h4.9M709.3 109.8h4.9M711.5 123h4.9M666.8 147.1h4.9M620.8 79.3h4.9M679.2 143.4h4.9M668.6 59.7h4.9M711 103.3h4.9M674.8 54.9h4.9M617.8 115h4.9M745 127.3h4.9M703.1 96.9h4.9M676.8 148.8h4.9M602.4 106.4h4.9M726.7 120.7h4.9M684.5 71.6h4.9M628.7 113.4h4.9M656.5 62.7h4.9M655.4 62.9h4.9M633.4 116.7h4.9M675.6 144h4.9M746.7 121.5h4.9M672.5 53.9h4.9M602.9 107.1h4.9M739.4 132.6h4.9M630.1 75.2h4.9M664.9 145.8h4.9" fill="none" stroke="#0c8080" stroke-width="4.9"/><path d="M606.7 91.1L605.5 98.1L607.9 102.9L607.9 103L608 103L608 103.1L608 103.2L608 103.4L608 103.5L608 103.6L607.9 103.6L607.9 103.7L605.8 108.1L608.5 109.9L615.8 108.7L615.9 108.7L616 108.7L616.1 108.7L616.2 108.7L616.3 108.8L616.4 108.8L616.5 108.8L616.6 108.9L616.7 109L616.7 109L616.8 109.1L620.2 113.7L624.6 112.5L630.8 110.1L630.9 110L631 110L631.1 110L631.2 110L631.3 110L631.4 110L631.5 110L631.6 110.1L631.7 110.1L631.7 110.2L631.8 110.2L631.9 110.3L632 110.3L639.4 119L646.7 120.1L646.7 120.1L646.8 120.2L646.9 120.2L647 120.2L647.1 120.3L647.2 120.4L647.2 120.4L647.3 120.5L647.4 120.6L647.4 120.7L647.4 120.7L647.5 120.8L647.5 120.9L648.8 128.5L653.6 136.9L660.3 139L664.1 140.1L664.2 140.2L664.3 140.2L664.3 140.3L664.4 140.3L664.5 140.4L664.5 140.4L664.6 140.5L668.3 145.5L673.3 149.2L673.4 149.3L673.4 149.3L673.5 149.4L673.6 149.5L673.6 149.6L673.6 149.7L675.7 155.4L677.8 155.1L676.5 149.1L674.5 142.7L674.5 142.6L674.5 142.5L674.5 142.4L674.5 142.3L674.5 142.2L674.5 142.1L674.6 142L674.6 141.9L674.7 141.8L674.7 141.8L674.8 141.7L674.9 141.6L674.9 141.6L675 141.5L675.1 141.5L675.2 141.4L675.3 141.4L675.4 141.4L675.5 141.4L681.5 141.4L687.4 139L691.1 135.3L691.2 135.2L691.2 135.2L691.3 135.1L691.4 135.1L691.5 135L691.6 135L691.7 135L691.8 135L699.4 135L704.4 133.8L704.5 133.8L704.6 133.8L704.7 133.8L704.8 133.8L704.8 133.8L704.9 133.9L705 133.9L705.1 133.9L705.2 134L705.3 134.1L705.3 134.1L705.4 134.2L705.5 134.3L705.5 134.4L705.5 134.5L707.2 138.9L711 138.9L711.1 138.9L711.2 138.9L711.3 138.9L711.4 139L717.6 141.4L722.6 142.7L722.7 142.8L722.8 142.8L722.9 142.9L723 142.9L723.1 143L723.2 143.1L723.2 143.1L725.7 146.8L729 148.9L731.7 148L732.2 141L732.2 141L732.9 134.7L732.9 134.6L732.9 134.5L733 134.4L733 134.3L733.1 134.2L733.1 134.1L733.2 134.1L733.3 134L733.4 133.9L733.5 133.9L733.6 133.9L738.6 132.1L743.4 130.1L747.4 126.2L746.7 124.3L741.6 123.1L736.2 125.4L736.1 125.4L736 125.5L735.9 125.5L735.8 125.5L735.7 125.5L735.7 125.5L735.6 125.5L727.5 123.5L720.2 125.6L720.1 125.6L720 125.6L719.9 125.6L719.8 125.6L719.7 125.6L719.6 125.6L719.5 125.5L719.4 125.5L719.3 125.4L715.4 122.8L715.4 122.8L715.3 122.7L710.3 117.7L710.2 117.6L710.2 117.6L710.1 117.5L710.1 117.4L710 117.3L710 117.2L710 117.1L710 117L710 116.9L710 116.8L710 116.7L710.1 116.6L710.1 116.6L710.1 116.5L710.2 116.4L713.7 111.8L711.3 104.6L705.3 99.9L705.2 99.8L705.2 99.8L705.1 99.7L705 99.6L701.1 93.2L701.1 93.1L697.5 86L692.3 85L692.2 85L692.1 84.9L692 84.9L692 84.8L691.9 84.8L691.8 84.7L691.8 84.7L691.7 84.6L691.6 84.5L685.2 73.8L685.2 73.7L685.2 73.6L685.1 73.5L685.1 73.4L683.9 63.6L675.9 56.8L667.6 63.9L667.6 63.9L667.5 64L667.4 64L667.3 64.1L667.2 64.1L654.5 66.7L654.4 66.7L654.3 66.7L654.2 66.7L654.1 66.7L654 66.7L653.9 66.6L653.9 66.6L653.8 66.5L653.7 66.5L653.6 66.4L653.6 66.4L653.5 66.3L652.8 65.4L647.2 71.5L647.2 71.5L647.1 71.6L647 71.7L646.9 71.7L646.8 71.7L641.7 73.6L641.7 73.7L641.6 73.7L641.5 73.7L641.4 73.7L641.3 73.7L641.2 73.7L641.1 73.7L641 73.6L640.9 73.6L640.8 73.5L640.8 73.5L640.7 73.4L640.6 73.3L640.6 73.2L638.1 69.4L638 69.3L636.7 66.7L636.7 67.6L636.7 67.7L636 75.4L636 75.5L636 75.6L635.9 75.7L635.9 75.8L635.8 75.8L635.8 75.9L635.7 76L635.7 76.1L635.6 76.1L635.5 76.2L635.4 76.2L635.3 76.2L631.5 77.5L631.4 77.6L625.4 78.7L621.7 82.4L616.8 88.6L616.7 88.7L616.6 88.8L616.6 88.8L616.5 88.9L616.4 88.9L616.3 89L616.2 89L616.1 89L616 89L608.7 89L606.7 91.1Z" fill="#e6543a"/><path d="M647.4 124.4h0M653.7 135h0M616.8 89.8h0M619.1 88h0M671.3 148.5h0M610.3 91.3h0M622.3 82.3h0M715 124.5h0M683.5 69.4h0M607 104.1h0M706.2 135h0M649 119h0M607.1 97.8h0M701.3 97.9h0M651.3 129.1h0M615.2 108.1h0M637.1 114.8h0M629.2 110.9h0M676.8 148.1h0M606 99.4h0M724.2 144.5h0M731.3 147.3h0M647.2 74h0M731.1 147.5h0M608.4 107h0M730.4 137.1h0M743.8 124.1h0M682.9 66.3h0M654.2 136.2h0M675 145.4h0M729.2 149.2h0M607.4 89.6h0M744.6 126.5h0M617.9 107.5h0M672.8 147.8h0M708.1 115.4h0M617.2 87.6h0M643.7 119.3h0M650.9 126.3h0M720.8 125.4h0M721 142.7h0M712.9 109.1h0M623.6 80.3h0M682.3 63.6h0M684.3 69.9h0M633.7 112.7h0M730.7 139.9h0M676.4 141.2h0M609.9 110.3h0M705.4 101h0M699.7 90.8h0M673.1 143.3h0M699.3 91.3h0M652.7 135.5h0M701.2 133.8h0M650.5 132.4h0M710.3 137.3h0M617.3 87.8h0M713.1 122.4h0M606.6 93.3h0M710.6 107.4h0M741.1 124.4h0M624.8 112.3h0M639 70.8h0M637.9 117.7h0M647.2 118.2h0M639.1 119.3h0M702.5 99.4h0M650.6 129h0M669.6 63.6h0M612.5 89.5h0M633.4 76.7h0M674.3 150.7h0M731.6 146.1h0M712 119.7h0M638.7 71.7h0M690.1 85.7h0M681.8 61.9h0M742.3 128.4h0M607 108.1h0M662.7 65.5h0M690.2 85.5h0M704.8 98.4h0M626.3 109.6h0M607.6 99.4h0M607.4 108.3h0M733.3 132.3h0M651.5 131.3h0M738.9 126.7h0M654.7 69.1h0M669.8 147.1h0M689 136.4h0M711.6 108.7h0M741.9 130h0M609.4 91.2h0M638.3 72.7h0M622.3 113.6h0M742.3 129.3h0M711 114.8h0M691.1 135.1h0M737.6 132.8h0M655.8 68.2h0M609.8 104.2h0M732.9 135.6h0M687.9 139.2h0M650.8 70.3h0M649.3 71.6h0M662 65.2h0M650.4 127.5h0M678.6 140.3h0M607.6 90.1h0M697.7 89.4h0M743.7 123.5h0M667.1 63.7h0M670.4 64h0M690 79.6h0M668.4 146.6h0M688.9 77.8h0M703 93.2h0M621.6 81.2h0M645.8 71h0M697.1 85.2h0M678.4 154.3h0M641.7 70.9h0M655.9 138.6h0M654.6 65.8h0M665.2 63.4h0M622 114.8h0" fill="none" stroke="#e6543a" stroke-width="5.8" stroke-linecap="round"/>
<circle cx="725.6" cy="141.1" r="2.2" fill="#fff"/>
<path d="M579 104.6h0M577.7 108.4h0M579.6 111h0M578.4 118.6h0M581.6 116.1h0M584.1 114.8h0M587.3 116.7h0M590.5 112.9h0M593.7 111h0M597.5 109.7h0M598.8 109h0M606.4 107.8h0M605.1 118.6h0M607.7 120.5h0M610.9 118h0M614 117.3h0M623 120.5h0M593.7 83.6h0M596.8 84.8h0M600 85.5h0M601.9 87.4h0M606.4 86.8h0M608.3 88.7h0M610.9 80.4h0M613.4 73.4h0M638.9 119.9h0M647.9 55.5h0M514.2 69.2h0M489.5 179.6h0M530.5 228.1h0" fill="none" stroke="#e6543a" stroke-width="5.8" stroke-linecap="round"/>
<rect x="702.9" y="239.5" width="5.8" height="5.8" fill="#0c8080"/><circle cx="705.8" cy="256.9" r="3.1" fill="#e6543a"/><g font-size="12" fill="#1c1c1c"><text x="723" y="246.1">Cluster 1</text><text x="723" y="260.6">Cluster 2</text></g>
<text x="409.3" y="20.8" font-size="16" font-weight="bold" fill="#2a2a2a">(b)</text>
</g>
<g>
<rect x="303.3" y="345.5" width="324.6" height="264" fill="none" stroke="#1c1c1c" stroke-width="1.25"/><path d="M330.6 609.5v5.8M384.6 609.5v5.8M438.6 609.5v5.8M492.6 609.5v5.8M546.6 609.5v5.8M600.6 609.5v5.8M303.6 609.5v3.2M357.6 609.5v3.2M411.6 609.5v3.2M465.6 609.5v3.2M519.6 609.5v3.2M573.6 609.5v3.2M627.6 609.5v3.2M303.3 585.3h-5.8M303.3 537.3h-5.8M303.3 489.3h-5.8M303.3 441.3h-5.8M303.3 393.3h-5.8M303.3 345.3h-5.8M303.3 609.3h-3.2M303.3 561.3h-3.2M303.3 513.3h-3.2M303.3 465.3h-3.2M303.3 417.3h-3.2M303.3 369.3h-3.2" stroke="#1c1c1c" stroke-width="1.25" fill="none"/><g font-size="10" fill="#1c1c1c"><text x="330.6" y="625.4" text-anchor="middle">0</text><text x="384.6" y="625.4" text-anchor="middle">20</text><text x="438.6" y="625.4" text-anchor="middle">40</text><text x="492.6" y="625.4" text-anchor="middle">60</text><text x="546.6" y="625.4" text-anchor="middle">80</text><text x="600.6" y="625.4" text-anchor="middle">100</text><text x="293.7" y="588.6" text-anchor="end">0</text><text x="293.7" y="540.6" text-anchor="end">50</text><text x="293.7" y="492.6" text-anchor="end">100</text><text x="293.7" y="444.6" text-anchor="end">150</text><text x="293.7" y="396.6" text-anchor="end">200</text><text x="293.7" y="348.6" text-anchor="end">250</text></g><g font-size="14.5" fill="#1c1c1c"><text x="465.6" y="647.7" text-anchor="middle">CN (v/v)</text><text transform="translate(267.5 465.8) rotate(-90)" text-anchor="middle">RT (ohm m)</text></g>
<path d="M358.6 367.5h4.9M366.8 366.5h4.9M363.9 373.8h4.9M357.2 378h4.9M362.4 454.6h4.9M361.6 462.7h4.9M354.4 475.3h4.9M360.1 472.8h4.9M370.5 473.8h4.9M354.4 474.4h4.9M360.4 472h4.9M370.3 473.6h4.9M369.3 482.3h4.9M364.4 495.5h4.9M357.4 499.9h4.9M370.9 509.8h4.9M367.3 517.8h4.9M373.9 526.4h4.9M373.9 539.7h4.9M349.4 539.7h4.9M384.3 541.7h4.9M387.3 547.7h4.9M383.3 558.6h4.9M402.8 563.6h4.9M328.5 578.5h4.9M350.4 548.7h4.9" fill="none" stroke="#0c8080" stroke-width="4.9"/>
<path d="M350.7 539.1h4.9M476.4 574.7h4.9M383.2 561.8h4.9M415.5 577.1h4.9M525.4 569.6h4.9M398.3 556.7h4.9M430.1 579h4.9M370.1 540.8h4.9M543.5 574.3h4.9M348.5 539.8h4.9M576.6 573.8h4.9M358.5 528.6h4.9M414.3 578.8h4.9M396.3 556.2h4.9M348.9 549.7h4.9M361.1 531.1h4.9M449.5 578.7h4.9M521.3 567.6h4.9M375.1 553.7h4.9" fill="none" stroke="#0c8080" stroke-width="4.9"/><path d="M339.2 585.7L400 586.5L440 586.2L440 586.2L505 586.2L548.3 585.2L594.6 583.2L596.1 581L594.6 578.8L581.8 579.3L581.8 579.3L581.8 579.3L581.7 579.3L581.7 579.3L581.7 579.3L581.6 579.3L581.6 579.2L581.6 579.2L581.6 579.2L581.6 579.2L578.5 574.9L561.4 578.2L561.3 578.2L561.3 578.2L561.3 578.2L561.2 578.2L543.9 573.9L543.9 573.9L543.9 573.9L543.9 573.9L543.8 573.8L543.8 573.8L543.8 573.8L543.8 573.8L539.5 568.5L522.4 568.5L513.7 571.7L513.7 571.7L513.6 571.7L513.6 571.7L513.6 571.7L513.6 571.7L513.5 571.7L513.5 571.7L513.5 571.7L513.5 571.7L513.4 571.6L513.4 571.6L513.4 571.6L509.2 567.3L502.9 568.5L492.2 577L492.2 577.1L492.1 577.1L492.1 577.1L492.1 577.1L492.1 577.1L492 577.1L492 577.1L492 577.1L491.9 577.1L479 574.9L461.7 577.1L440 580.3L440 580.3L440 580.3L431.5 579.8L431.5 579.8L419.6 578.8L419.5 578.8L419.5 578.8L419.5 578.8L419.5 578.8L419.4 578.7L409.4 571.8L409.4 571.8L409.4 571.8L409.4 571.8L409.4 571.8L405.4 565.8L405.3 565.7L401.5 557.8L395.7 555.9L383.8 561.9L383.8 561.9L383.8 561.9L383.8 561.9L383.7 561.9L383.7 561.9L383.7 561.9L383.6 561.9L383.6 561.9L383.6 561.9L383.6 561.9L383.5 561.8L383.5 561.8L378.6 557.8L378.6 557.8L378.6 557.8L378.6 557.8L378.5 557.7L378.5 557.7L373.5 545.8L373.5 545.8L373.5 545.8L373.5 545.7L372.5 535.7L367.6 532.2L367.6 532.2L362.7 527.8L357.1 529.8L352.6 532.2L351.8 540L352.2 549.7L353.2 559.6L353.2 559.6L353.2 559.6L353.2 559.7L353.2 559.7L353.2 559.7L353.2 559.7L353.2 559.8L353.1 559.8L353.1 559.8L353.1 559.8L353.1 559.8L353 559.9L353 559.9L353 559.9L353 559.9L352.9 559.9L352.9 559.9L352.9 559.9L352.8 559.9L352.8 559.9L346 557.9L340.2 561.8L339.2 573.6L339.2 585.7Z" fill="#e6543a"/><path d="M525.2 581.8h0M401.9 569.4h0M542.5 576.6h0M394.1 560.2h0M455.5 581.6h0M364.9 536.6h0M545.1 583.2h0M400.6 564.7h0M551.6 580.8h0M451.6 581.6h0M341.9 581.5h0M463.4 580h0M415.3 583.2h0M342.1 570.7h0M369.9 537.9h0M355.8 553.7h0M364 535.3h0M445.3 584.3h0M501.8 574.2h0M515.8 583.6h0M375.8 561.6h0M381.7 581.5h0M583.9 581.6h0M550.3 581.4h0M496.8 579.7h0M459.2 582.4h0M397.7 560.9h0M473 579.3h0M402.8 565.4h0M346.5 583.6h0M347.2 561.4h0M357.5 553h0M537.5 580.4h0M348.2 581.8h0M376.3 584.3h0M349.6 563.7h0M473.7 583.4h0M469.1 583.1h0M373 554.7h0M499 574.3h0M349.5 561.2h0M362.3 532.9h0M506.8 581.1h0M480.7 580.1h0M515 583.4h0M467.4 582.1h0M488.9 583.7h0M341.3 583.8h0M399 560.5h0M506.4 572.2h0M508.2 570.4h0M355.7 554.8h0M528.1 571.1h0M475 578.2h0M566 581.7h0M524.7 583.3h0M371 541h0M507.6 581.1h0M574.5 578.7h0M457.2 582.8h0M348.2 562.9h0M360.2 581h0M469.8 584.2h0M481.5 578.6h0M354 540h0M533.3 580.6h0M529.3 582.5h0M508.4 570.1h0M495.6 582.8h0M428.8 583.6h0M404.3 583.2h0M517.3 572.6h0M498.6 578.2h0M405.7 582.1h0M499.5 582.5h0M508.7 573.1h0M512.8 576.1h0M559.6 580.7h0M558.3 582.8h0M384.3 581.3h0M413.7 578h0M574 581.4h0M514.7 582h0M530.4 570.8h0M500 584h0M510.9 584h0M372 581.2h0M364.6 532.6h0M370.7 537.3h0M568.8 582h0M455.4 583.1h0M402.1 567.1h0M369.4 537.5h0M351.9 563.3h0M344.3 570.3h0M539.2 583.5h0M430.1 581.7h0" fill="none" stroke="#e6543a" stroke-width="5.8" stroke-linecap="round"/>
<path d="M338.5 560.6h4.9M350.8 536.8h4.9M369.7 537.8h4.9M379.5 560.1h4.9M348.4 559.7h4.9M351.6 535.3h4.9M386.6 560.5h4.9M350.5 557.1h4.9M404.2 567.4h4.9M348.9 547.7h4.9M369 545.4h4.9M396 557.2h4.9M375.2 553.8h4.9M363.6 532.5h4.9M348.3 543.8h4.9M337.6 564.4h4.9M367.2 532.5h4.9M378.1 558.8h4.9M372 538.5h4.9M349.4 544.9h4.9M349.4 535.7h4.9M349.4 559.2h4.9" fill="none" stroke="#0c8080" stroke-width="4.9"/><path d="M409 572.4L409 572.4L408.9 572.3L408.8 572.2L408.8 572.2L404.8 566.2L404.7 566L401 558.4L395.8 556.7L384.1 562.5L384.1 562.5L384 562.6L383.9 562.6L383.8 562.6L383.7 562.6L383.6 562.6L383.5 562.6L383.4 562.6L383.3 562.5L383.2 562.5L383.1 562.4L383.1 562.4L378.2 558.4L378.1 558.3L378 558.2L378 558.2L377.9 558.1L377.9 558L372.9 546.1L372.8 546L372.8 545.9L372.8 545.8L371.8 536.1L367.2 532.8L367.1 532.7L362.6 528.6L357.4 530.4L353.2 532.6L352.5 540L352.9 549.6L353.9 559.5L353.9 559.6L353.9 559.7L353.9 559.8L353.9 559.9L353.8 560L353.8 560.1L353.7 560.1L353.7 560.2L353.6 560.3L353.5 560.4L353.5 560.4L353.4 560.5L353.3 560.5L353.2 560.6L353.1 560.6L353 560.6L352.9 560.6L352.8 560.6L352.7 560.6L352.6 560.6L346.1 558.7L340.9 562.2L339.9 573.6L339.9 581L413 581L413 575.2L409 572.4Z" fill="#e6543a"/><path d="M392.2 559.5h0M405.2 578.1h0M346.1 562.5h0M393.9 561h0M379.6 563.7h0M372 541.1h0M360.4 532.6h0M373.1 553.3h0M354.2 549.7h0M356.6 556.3h0M393.5 580.3h0M384.9 563.6h0M340.8 567.9h0M363.7 533.5h0M354.9 561.2h0M406.2 572.8h0M352.9 560.9h0M344.9 578.1h0M372.1 546h0M356 559.1h0M350.8 563.3h0M342.7 562.4h0M355.2 536.5h0M354.3 561.2h0M348.4 559.9h0M383.5 579.1h0M353.1 549.1h0M353.1 538.1h0M387.7 561.6h0M353.6 563.8h0M383 579.7h0M370.9 539.3h0M340.1 575.3h0M400.4 564.4h0M375.8 579.8h0M396.6 559.7h0M355.3 532.2h0M351.9 551.3h0" fill="none" stroke="#e6543a" stroke-width="5.8" stroke-linecap="round"/>
<path d="M363.4 532.5h4.9M352.1 533.7h4.9M359.6 525.9h4.9M371.2 536.7h4.9M353.2 527.6h4.9M359.8 528.7h4.9M360.8 527.4h4.9M367 529.9h4.9M352.9 528h4.9" fill="none" stroke="#0c8080" stroke-width="4.9"/>
<path d="M363.1 524.6h0M352 528.3h0M372 534.9h0M361.2 522.4h0M365.8 522.6h0M358.5 530.7h0M362.8 536h0M365.3 528.3h0M357.4 521.9h0M364 521.9h0M362.7 531.5h0M356.5 533.6h0M351.8 531.2h0M362 525h0M356.3 529.2h0M353 530h0M358.6 531.8h0M362.4 521.2h0M358.1 533.4h0M352.2 525.2h0M367.2 524.2h0M360 533.3h0M366.4 532.7h0M368 536.4h0M358.9 527.5h0M365.7 522.8h0" fill="none" stroke="#e6543a" stroke-width="5.8" stroke-linecap="round"/>
<path d="M368.3 365.5h0M363 370.7h0M369.5 380.5h0M358.4 404.4h0M370.2 404.4h0M371.4 428.9h0M357.8 439.7h0M372 451.7h0M365.1 464.4h0M364.1 476.1h0M364.2 476.4h0M359.8 482.9h0M366.8 481.6h0M365.4 488.9h0M373.8 494.3h0M364.8 497.9h0M356.2 500.9h0M368.8 502.9h0M363.4 505.8h0M367.8 507.8h0M375.4 511.8h0M357.8 511.8h0M355.8 517.4h0M365.4 515.8h0M365.4 519.8h0M387.7 543.3h0M385.7 551.7h0M390.1 556h0M376.8 550.7h0M398.7 556.6h0M405.6 568.6h0M335.5 578.5h0" fill="none" stroke="#e6543a" stroke-width="5.8" stroke-linecap="round"/>
<rect x="551.3" y="359" width="5.8" height="5.8" fill="#0c8080"/><circle cx="554.2" cy="376.9" r="3.1" fill="#e6543a"/><g font-size="12" fill="#1c1c1c"><text x="568.4" y="365.6">Cluster 1</text><text x="568.4" y="380.6">Cluster 2</text></g>
<text x="240.5" y="354" font-size="16" font-weight="bold" fill="#2a2a2a">(c)</text>
</g>
</svg>
</body></html>
